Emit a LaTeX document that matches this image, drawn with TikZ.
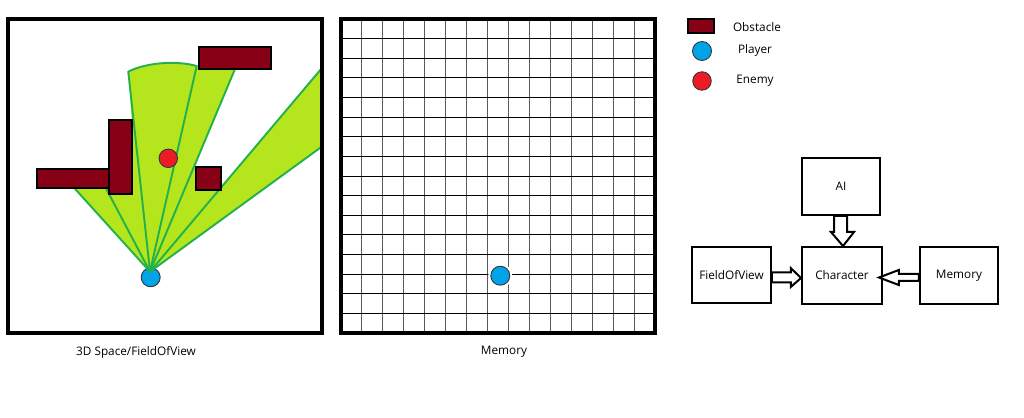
\documentclass[tikz,border=0pt]{standalone}
\usepackage{fontspec}
\setmainfont{Open Sans}
\usetikzlibrary{calc}
\definecolor{obst}{RGB}{136,0,21}
\definecolor{plblue}{RGB}{0,162,232}
\definecolor{enred}{RGB}{237,28,36}
\definecolor{fovgreen}{RGB}{181,230,29}
\definecolor{raygreen}{RGB}{34,177,76}
\tikzset{
  frame/.style={draw=black, line width=0.07cm},
  obstacle/.style={fill=obst, draw=black, line width=0.6pt},
  player/.style={circle, fill=plblue, draw=black!80, line width=0.5pt, minimum size=0.38cm, inner sep=0pt},
  enemy/.style={circle, fill=enred, draw=black!80, line width=0.5pt, minimum size=0.37cm, inner sep=0pt},
  fov/.style={fill=fovgreen},
  ray/.style={draw=raygreen, line width=1.1pt, line cap=round},
  box/.style={draw, line width=0.04cm, minimum width=1.57cm, minimum height=1.14cm, inner sep=0pt},
  blockarrow/.style={draw, fill=white, line width=0.04cm, line join=miter},
  lbl/.style={inner sep=0pt, font=\fontsize{6.7}{8}\selectfont}
}
\begin{document}
\begin{tikzpicture}[x=0.02cm, y=-0.02cm, every node/.append style={font=\fontsize{6.7}{8}\selectfont}]
            \useasboundingbox (0,0) rectangle (1024,418);

            % 3D space
            \node[player] (plr) at (150.7,277.3) {};
            \fill[fov] (150,271.7) -- (74,187.7) -- (109,187.7) -- (109,194) -- (131.7,194)
                -- (131.7,120) -- (128.3,71.7) .. controls (145,63) and (175,60) .. (196.7,66)
                -- (199,69) -- (235,69) -- (193.7,167.3) -- (196,167.3) -- (196,190.3)
                -- (219,190.3) -- (321.7,68.3) -- (321.7,146.7) -- cycle;
            \coordinate (eye) at (150,271.7);
            \foreach \p in {(74,187.7),(106,188.3),(128.3,71.7),(196.7,66),(235,69),(321.7,68.3),(321.7,146.7)}
                \draw[ray] (eye) -- \p;
            \draw[ray] (128.3,71.7) .. controls (145,63) and (175,60) .. (196.7,66);
            \draw[obstacle] (199,47) rectangle (271,69);
            \draw[obstacle] (37,169) rectangle (109,188);
            \draw[obstacle] (109,120) rectangle (132,194);
            \draw[obstacle] (196,167) rectangle (221,190);
            \node[enemy] (enm) at (168.3,158.3) {};
            \draw[frame] (8,19) rectangle (322,333);
            \node[lbl] (spacelbl) at (136,352) {3D Space/FieldOfView};

            % memory grid
            \foreach \i in {1,...,14}
                \draw[black!65, line width=0.5pt] (341+\i*20.93,19) -- ++(0,314);
            \foreach \j in {1,...,15}
                \draw[black, line width=0.5pt] (341,19+\j*19.625) -- ++(314,0);
            \fill[white] (500.3,275.7) circle (12);
            \node[player] (mplr) at (500.3,275.7) {};
            \draw[frame] (341,19) rectangle (655,333);
            \node[lbl] (memlbl) at (504,352) {Memory};

            % legend
            \draw[obstacle] (688,19) rectangle (714,33);
            \node[lbl] (obstlbl) at (757,27) {Obstacle};
            \node[player] (legplr) at (702,51) {};
            \node[lbl] (plrlbl) at (755,50) {Player};
            \node[enemy] (legenm) at (702,81) {};
            \node[lbl] (enmlbl) at (755,81) {Enemy};

            % components
            \node[box] (ai) at (841,186.5) {AI};
            \node[box, minimum width=1.6cm] (chr) at (842,275.5) {Character};
            \node[box] (fov) at (731.5,275) {FieldOfView};
            \node[box] (mem) at (959,275.5) {Memory};

            \draw[blockarrow] ($(ai.south)+(-7,0)$) -- ++(0,16) -- ++(-3,0) -- ($(chr.north)+(1,0)$)
                -- ($(ai.south)+(13,16)$) -- ++(-7,0) -- ($(ai.south)+(6,0)$) -- cycle;
            \draw[blockarrow] ($(fov.east)+(0,-2.5)$) -- ++(19,0) -- ++(0,-4.5) -- ($(chr.west)+(0,2.5)$)
                -- ($(fov.east)+(19,12)$) -- ++(0,-4.5) -- ($(fov.east)+(0,7.5)$) -- cycle;
            \draw[blockarrow] ($(mem.west)+(0,-1.5)$) -- ++(-20,0) -- ++(0,-4) -- ($(chr.east)+(-4,2)$)
                -- ($(mem.west)+(-20,9.5)$) -- ++(0,-4) -- ($(mem.west)+(0,5.5)$) -- cycle;
\end{tikzpicture}
\end{document}
